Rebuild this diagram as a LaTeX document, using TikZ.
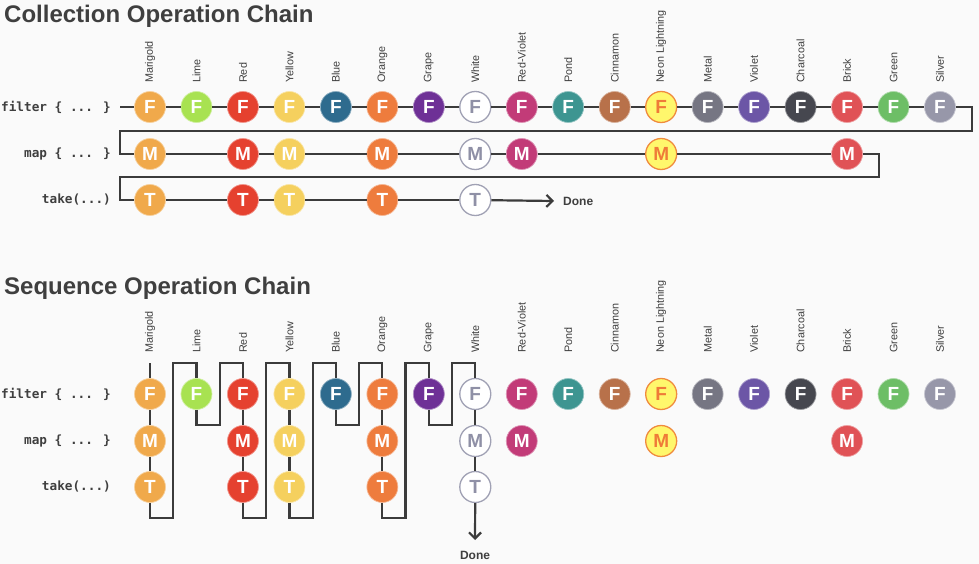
\documentclass[tikz,border=0pt]{standalone}
\usepackage{fontspec}
\setmainfont{Liberation Sans}
\newfontfamily\codefont{DejaVu Sans Mono}
\usetikzlibrary{arrows.meta}

\definecolor{bgcol}{HTML}{FAFAFA}
\definecolor{wire}{HTML}{3B3B3B}
\definecolor{ink}{HTML}{3F3F3F}
\definecolor{cMarigold}{HTML}{F0A94B}
\definecolor{cLime}{HTML}{A8E251}
\definecolor{cRed}{HTML}{E5412F}
\definecolor{cYellow}{HTML}{F5D05E}
\definecolor{cBlue}{HTML}{2E6B8E}
\definecolor{cOrange}{HTML}{EE7C3D}
\definecolor{cGrape}{HTML}{6E3096}
\definecolor{cRedViolet}{HTML}{C23B78}
\definecolor{cPond}{HTML}{3D9591}
\definecolor{cCinnamon}{HTML}{B8714A}
\definecolor{cNeon}{HTML}{FFF76C}
\definecolor{cNeonRim}{HTML}{F08B3E}
\definecolor{cNeonTxt}{HTML}{EF7A38}
\definecolor{cMetal}{HTML}{767683}
\definecolor{cViolet}{HTML}{6C56A6}
\definecolor{cCharcoal}{HTML}{46474F}
\definecolor{cBrick}{HTML}{E05256}
\definecolor{cGreen}{HTML}{6DBE66}
\definecolor{cSilver}{HTML}{9797A9}
\definecolor{cHollowRim}{HTML}{A0A1B4}
\definecolor{cHollowTxt}{HTML}{8F90A6}

\tikzset{
	ball/.style={circle, minimum size=31pt, inner sep=0pt, fill=#1, draw=#1!55!white,
		line width=0.7pt, text=white, font=\fontsize{19}{19}\selectfont\bfseries},
	plain/.style={},
	hollow/.style={fill=white, draw=cHollowRim, text=cHollowTxt, line width=1.3pt},
	neon/.style={fill=cNeon, draw=cNeonRim, text=cNeonTxt, line width=1.3pt},
	colname/.style={rotate=90, anchor=west, inner sep=0pt, text=ink, font=\fontsize{10.8}{11}\selectfont},
	oplabel/.style={anchor=east, inner sep=0pt, text=ink, font=\codefont\bfseries\fontsize{12.7}{13}\selectfont},
	heading/.style={anchor=base west, inner sep=0pt, text=ink, font=\fontsize{24}{26}\selectfont\bfseries},
	donelabel/.style={inner sep=0pt, text=ink, font=\fontsize{12}{13}\selectfont\bfseries},
	chain/.style={draw=wire, line width=2.2pt},
	endtip/.style={-{Straight Barb[length=6pt, width=12pt]}},
}

\begin{document}
\begin{tikzpicture}[x=1pt, y=-1pt]
			
			\fill[bgcol] (0,0) rectangle (979,564);
			\useasboundingbox (0,0) rectangle (979,564);
			
			\node[heading] (ctitle) at (4,23) {Collection Operation Chain};
			\node[heading] (stitle) at (4,294) {Sequence Operation Chain};
			
			\node[oplabel] (cfl) at (111,107) {filter \{ ... \}};
			\node[oplabel] (cml) at (111,154) {map \{ ... \}};
			\node[oplabel] (ctl) at (111,200) {take(...)};
			\node[oplabel] (sfl) at (111,394) {filter \{ ... \}};
			\node[oplabel] (sml) at (111,441) {map \{ ... \}};
			\node[oplabel] (stl) at (111,487) {take(...)};
			
			% columns: index / name / colour / stages passed / extra style
			\foreach \i/\name/\fc/\d/\ext in {1/Marigold/cMarigold/3/plain, 2/Lime/cLime/1/plain,
				3/Red/cRed/3/plain, 4/Yellow/cYellow/3/plain, 5/Blue/cBlue/1/plain,
				6/Orange/cOrange/3/plain, 7/Grape/cGrape/1/plain, 8/White/white/3/hollow,
				9/Red-Violet/cRedViolet/2/plain, 10/Pond/cPond/1/plain, 11/Cinnamon/cCinnamon/1/plain,
				12/Neon Lightning/cNeon/2/neon, 13/Metal/cMetal/1/plain, 14/Violet/cViolet/1/plain,
				15/Charcoal/cCharcoal/1/plain, 16/Brick/cBrick/2/plain, 17/Green/cGreen/1/plain,
				18/Silver/cSilver/1/plain}{
				\pgfmathsetmacro\x{150+(\i-1)*46.47}
				\node[colname] (cn\i) at (\x,83) {\name};
				\node[colname] (sn\i) at (\x,353) {\name};
				\node[ball=\fc, \ext] (cf\i) at (\x,107) {F};
				\node[ball=\fc, \ext] (sf\i) at (\x,394) {F};
				\ifnum\d>1
					\node[ball=\fc, \ext] (cm\i) at (\x,154) {M};
					\node[ball=\fc, \ext] (sm\i) at (\x,441) {M};
				\fi
				\ifnum\d>2
					\node[ball=\fc, \ext] (ct\i) at (\x,200) {T};
					\node[ball=\fc, \ext] (st\i) at (\x,487) {T};
				\fi
				\ifnum\i<8
					\pgfmathsetmacro\yb{\d==3 ? 518 : 425}
					\coordinate (u\i) at (\x+23.2,363);
					\coordinate (d\i) at (\x+23.2,\yb);
				\fi
			}
			
			% collection: every stage runs over the whole list
			\coordinate (cin) at (120,107);
			\coordinate (fr) at (972,131);
			\coordinate (ml) at (120,131);
			\coordinate (mr) at (879,177);
			\coordinate (tl) at (120,177);
			\node[donelabel, anchor=west] (cdone) at (563,201) {Done};
			
			\draw[chain] (cin) -- (cf1);
			\foreach \i [remember=\i as \j (initially 1)] in {2,...,18}
				\draw[chain] (cf\j) -- (cf\i);
			\draw[chain] (cf18) -| (fr) -- (ml) |- (cm1);
			\draw[chain] (cm1) -- (cm3) -- (cm4) -- (cm6) -- (cm8) -- (cm9) -- (cm12) -- (cm16) -| (mr) -- (tl) |- (ct1);
			\draw[chain] (ct1) -- (ct3) -- (ct4) -- (ct6) -- (ct8);
			\draw[chain, endtip] (ct8) -- ([xshift=-9pt]cdone.west);
			
			% sequence: each element goes through all stages before the next one
			\coordinate (s0) at (150,363);
			\node[donelabel, anchor=north] (sdone) at (475,551) {Done};
			
			\draw[chain] (s0) -- (sf1) -- (sm1) -- (st1) |- (d1) -- (u1) -| (sf2) |- (d2) -- (u2) -| (sf3)
				-- (sm3) -- (st3) |- (d3) -- (u3) -| (sf4) -- (sm4) -- (st4) |- (d4) -- (u4) -| (sf5)
				|- (d5) -- (u5) -| (sf6) -- (sm6) -- (st6) |- (d6) -- (u6) -| (sf7) |- (d7) -- (u7) -| (sf8)
				-- (sm8) -- (st8);
			\draw[chain, endtip] (st8) -- ([yshift=11pt]sdone.north);
			
\end{tikzpicture}
\end{document}
